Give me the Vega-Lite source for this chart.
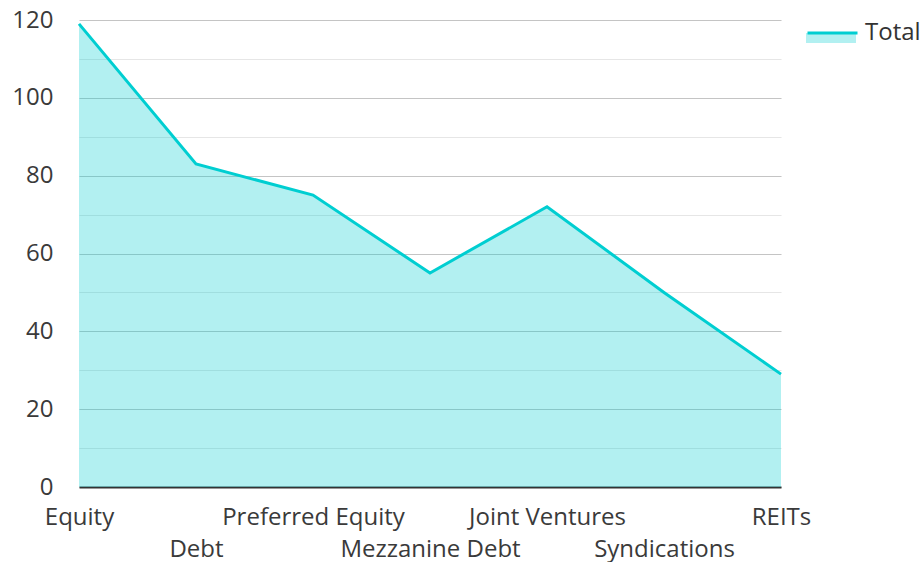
{
  "$schema": "https://vega.github.io/schema/vega-lite/v6.json",
  "width": 702,
  "height": 467,
  "autosize": "none",
  "padding": {"left": 79, "top": 20, "right": 141, "bottom": 75},
  "background": "white",
  "config": {
    "font": "Open Sans",
    "view": {"stroke": null},
    "axis": {"labelFont": "Open Sans", "labelFontSize": 24, "labelColor": "#3a3a3a", "labelLimit": 0},
    "legend": {"labelFont": "Open Sans", "labelFontSize": 24, "labelColor": "#333333", "labelLimit": 0}
  },
  "data": {
    "values": [
      {"category": "Equity", "value": 119, "series": "Total"},
      {"category": "Debt", "value": 83, "series": "Total"},
      {"category": "Preferred Equity", "value": 75, "series": "Total"},
      {"category": "Mezzanine Debt", "value": 55, "series": "Total"},
      {"category": "Joint Ventures", "value": 72, "series": "Total"},
      {"category": "Syndications", "value": 50, "series": "Total"},
      {"category": "REITs", "value": 29, "series": "Total"}
    ]
  },
  "encoding": {
    "x": {
      "field": "category",
      "type": "ordinal",
      "sort": null,
      "scale": {"type": "point", "padding": 0},
      "axis": {
        "title": null,
        "labelAngle": 0,
        "ticks": false,
        "domain": true,
        "domainColor": "#333333",
        "domainWidth": 2,
        "grid": false,
        "labelPadding": 18,
        "labelBaseline": "top",
        "labelLineHeight": 32,
        "labelOverlap": false,
        "labelLimit": 0,
        "labelExpr": "(datum.value === 'Debt' || datum.value === 'Mezzanine Debt' || datum.value === 'Syndications') ? ['', datum.label] : datum.label"
      }
    },
    "y": {
      "field": "value",
      "type": "quantitative",
      "scale": {"domain": [0, 120], "nice": false, "zero": true},
      "axis": {
        "title": null,
        "values": [0, 10, 20, 30, 40, 50, 60, 70, 80, 90, 100, 110, 120],
        "labelExpr": "datum.value % 20 === 0 ? datum.label : ''",
        "ticks": false,
        "domain": false,
        "labelPadding": 26,
        "grid": true,
        "gridColor": {"condition": {"test": "datum.value % 20 === 0", "value": "#c4c4c4"}, "value": "#e6e6e6"},
        "gridWidth": 1.2
      }
    }
  },
  "layer": [
    {
      "mark": {"type": "area", "fillOpacity": 0.3, "interpolate": "linear"},
      "encoding": {
        "fill": {
          "field": "series",
          "type": "nominal",
          "scale": {"domain": ["Total"], "range": ["#00CED1"]},
          "legend": {
            "title": null,
            "orient": "none",
            "legendX": 727,
            "legendY": -13.5,
            "symbolType": "M-1,0.06H1V0.46H-1Z",
            "symbolSize": 2500,
            "symbolOpacity": 0.3,
            "symbolStrokeWidth": 0,
            "labelOffset": 6,
            "labelExpr": "''"
          }
        }
      }
    },
    {
      "mark": {"type": "line", "strokeWidth": 3, "interpolate": "linear"},
      "encoding": {
        "stroke": {
          "field": "series",
          "type": "nominal",
          "scale": {"range": ["#00CED1"]},
          "legend": {
            "title": null,
            "orient": "none",
            "legendX": 727,
            "legendY": -13.5,
            "symbolType": "M-1,0H1",
            "symbolSize": 2500,
            "symbolStrokeWidth": 3,
            "labelOffset": 6
          }
        }
      }
    }
  ]
}
